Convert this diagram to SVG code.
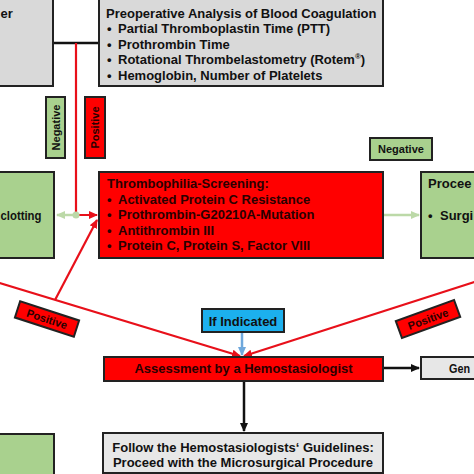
<svg xmlns="http://www.w3.org/2000/svg" width="474" height="474" viewBox="0 0 474 474">
<defs>
<style>
text{font-family:"Liberation Sans",Arial,sans-serif;font-weight:bold;font-size:13px;fill:#111}
.box{stroke:#222;stroke-width:2}
.gray{fill:#d9d9d9}
.lgray{fill:#e7e7e7}
.green{fill:#a9d18e}
.red{fill:#ff0000}
.blue{fill:#1cb0ee}
.rl{stroke:#e8101a;stroke-width:2.2;fill:none}
.gl{stroke:#bcd9a8;stroke-width:2.5;fill:none}
.bl{stroke:#111;stroke-width:2.5;fill:none}
.ul{stroke:#6fa8dc;stroke-width:2.5;fill:none}
.rt{fill:#2a0000}
.lbl{font-size:11px}
</style>
<marker id="ar" markerWidth="10" markerHeight="10" refX="8" refY="5" orient="auto" markerUnits="userSpaceOnUse"><path d="M0,1 L9,5 L0,9 Z" fill="#e8101a"/></marker>
<marker id="ag" markerWidth="10" markerHeight="10" refX="8" refY="5" orient="auto" markerUnits="userSpaceOnUse"><path d="M0,1 L9,5 L0,9 Z" fill="#bcd9a8"/></marker>
<marker id="ab" markerWidth="10" markerHeight="10" refX="8" refY="5" orient="auto" markerUnits="userSpaceOnUse"><path d="M0,1 L9,5 L0,9 Z" fill="#111"/></marker>
<marker id="au" markerWidth="10" markerHeight="10" refX="8" refY="5" orient="auto" markerUnits="userSpaceOnUse"><path d="M0,1 L9,5 L0,9 Z" fill="#6fa8dc"/></marker>
</defs>
<rect width="474" height="474" fill="#fff"/>

<g id="connectors">
<line class="bl" x1="53" y1="43" x2="99" y2="43"/>
<polyline class="rl" points="76,43 76,215 97,215" marker-end="url(#ar)"/>
<line class="gl" x1="76" y1="215" x2="57" y2="215" marker-end="url(#ag)"/>
<circle cx="76" cy="215" r="3.5" fill="#bcd9a8"/>
<line class="gl" x1="383" y1="215" x2="419" y2="215" marker-end="url(#ag)"/>
<line class="rl" x1="55" y1="300" x2="97" y2="220" marker-end="url(#ar)"/>
<line class="rl" x1="-10" y1="280" x2="240" y2="356" marker-end="url(#ar)"/>
<line class="rl" x1="484" y1="279" x2="244" y2="356" marker-end="url(#ar)"/>
<line class="ul" x1="242" y1="332" x2="242" y2="355" marker-end="url(#au)"/>
<line class="bl" x1="383" y1="368" x2="419" y2="368" marker-end="url(#ab)"/>
<line class="bl" x1="244" y1="381" x2="244" y2="431" marker-end="url(#ab)"/>
</g>

<g id="label-neg-vert">
<rect class="box green" x="46" y="97" width="19" height="61" stroke-width="1.5"/>
<text class="lbl" transform="translate(59.5,127.5) rotate(-90)" text-anchor="middle">Negative</text>
</g>
<g id="label-pos-vert">
<rect class="box red" x="85" y="97" width="20" height="61" stroke-width="1.5"/>
<text class="lbl rt" transform="translate(99,127.5) rotate(-90)" text-anchor="middle">Positive</text>
</g>
<g id="label-neg-right">
<rect class="box green" x="370" y="138" width="62" height="22" stroke-width="1.5"/>
<text class="lbl" x="401" y="153" text-anchor="middle">Negative</text>
</g>
<g id="label-pos-left" transform="translate(47,319) rotate(18)">
<rect class="box red" x="-31" y="-8.5" width="62" height="17" stroke-width="1.5"/>
<text class="lbl rt" x="0" y="4" text-anchor="middle">Positive</text>
</g>
<g id="label-pos-right" transform="translate(428,319) rotate(-20)">
<rect class="box red" x="-31" y="-9" width="62" height="18" stroke-width="1.5"/>
<text class="lbl rt" x="0" y="4" text-anchor="middle">Positive</text>
</g>

<g id="node-topleft">
<rect class="box gray" x="-10" y="-1" width="63" height="87"/>
<text x="0.5" y="17.5">er</text>
</g>

<g id="node-preop">
<rect class="box gray" x="99" y="-1" width="284" height="87"/>
<text x="106" y="17.5">Preoperative Analysis of Blood Coagulation</text>
<text x="107" y="33">•</text><text x="118" y="33">Partial Thromboplastin Time (PTT)</text>
<text x="107" y="48.5">•</text><text x="118" y="48.5">Prothrombin Time</text>
<text x="107" y="64">•</text><text x="118" y="64">Rotational Thrombelastometry (Rotem<tspan font-size="8" dy="-5">®</tspan><tspan dy="5">)</tspan></text>
<text x="107" y="79.5">•</text><text x="118" y="79.5">Hemoglobin, Number of Platelets</text>
</g>

<g id="node-left-green">
<rect class="box green" x="-10" y="172" width="64" height="86"/>
<text x="0.5" y="219.5" textLength="41" lengthAdjust="spacingAndGlyphs">clotting</text>
</g>

<g id="node-thrombophilia">
<rect class="box red" x="99" y="172" width="284" height="86"/>
<text class="rt" x="107" y="187.5">Thrombophilia-Screening:</text>
<text class="rt" x="107" y="203.5">•</text><text class="rt" x="118" y="203.5">Activated Protein C Resistance</text>
<text class="rt" x="107" y="219">•</text><text class="rt" x="118" y="219">Prothrombin-G20210A-Mutation</text>
<text class="rt" x="107" y="234.5">•</text><text class="rt" x="118" y="234.5">Antithrombin III</text>
<text class="rt" x="107" y="250">•</text><text class="rt" x="118" y="250">Protein C, Protein S, Factor VIII</text>
</g>

<g id="node-right-green">
<rect class="box green" x="421" y="172" width="70" height="86"/>
<text x="428" y="187.5">Procee</text>
<text x="428" y="219.5">•</text><text x="440" y="219.5">Surgi</text>
</g>

<g id="node-if-indicated">
<rect class="box blue" x="202" y="309" width="82" height="23"/>
<text x="243" y="325.5" text-anchor="middle">If Indicated</text>
</g>

<g id="node-assessment">
<rect class="box red" x="104" y="357" width="279" height="24"/>
<text class="rt" x="243.5" y="373" text-anchor="middle">Assessment by a Hemostasiologist</text>
</g>

<g id="node-gen">
<rect class="box lgray" x="421" y="357" width="70" height="22"/>
<text x="449" y="373" textLength="21" lengthAdjust="spacingAndGlyphs">Gen</text>
</g>

<g id="node-bottom-left">
<rect class="box green" x="-10" y="434" width="64" height="50"/>
</g>

<g id="node-follow">
<rect class="box lgray" x="103" y="433" width="280" height="40"/>
<text x="243" y="451.5" text-anchor="middle">Follow the Hemostasiologists‘ Guidelines:</text>
<text x="243" y="466.5" text-anchor="middle">Proceed with the Microsurgical Procedure</text>
</g>
</svg>
